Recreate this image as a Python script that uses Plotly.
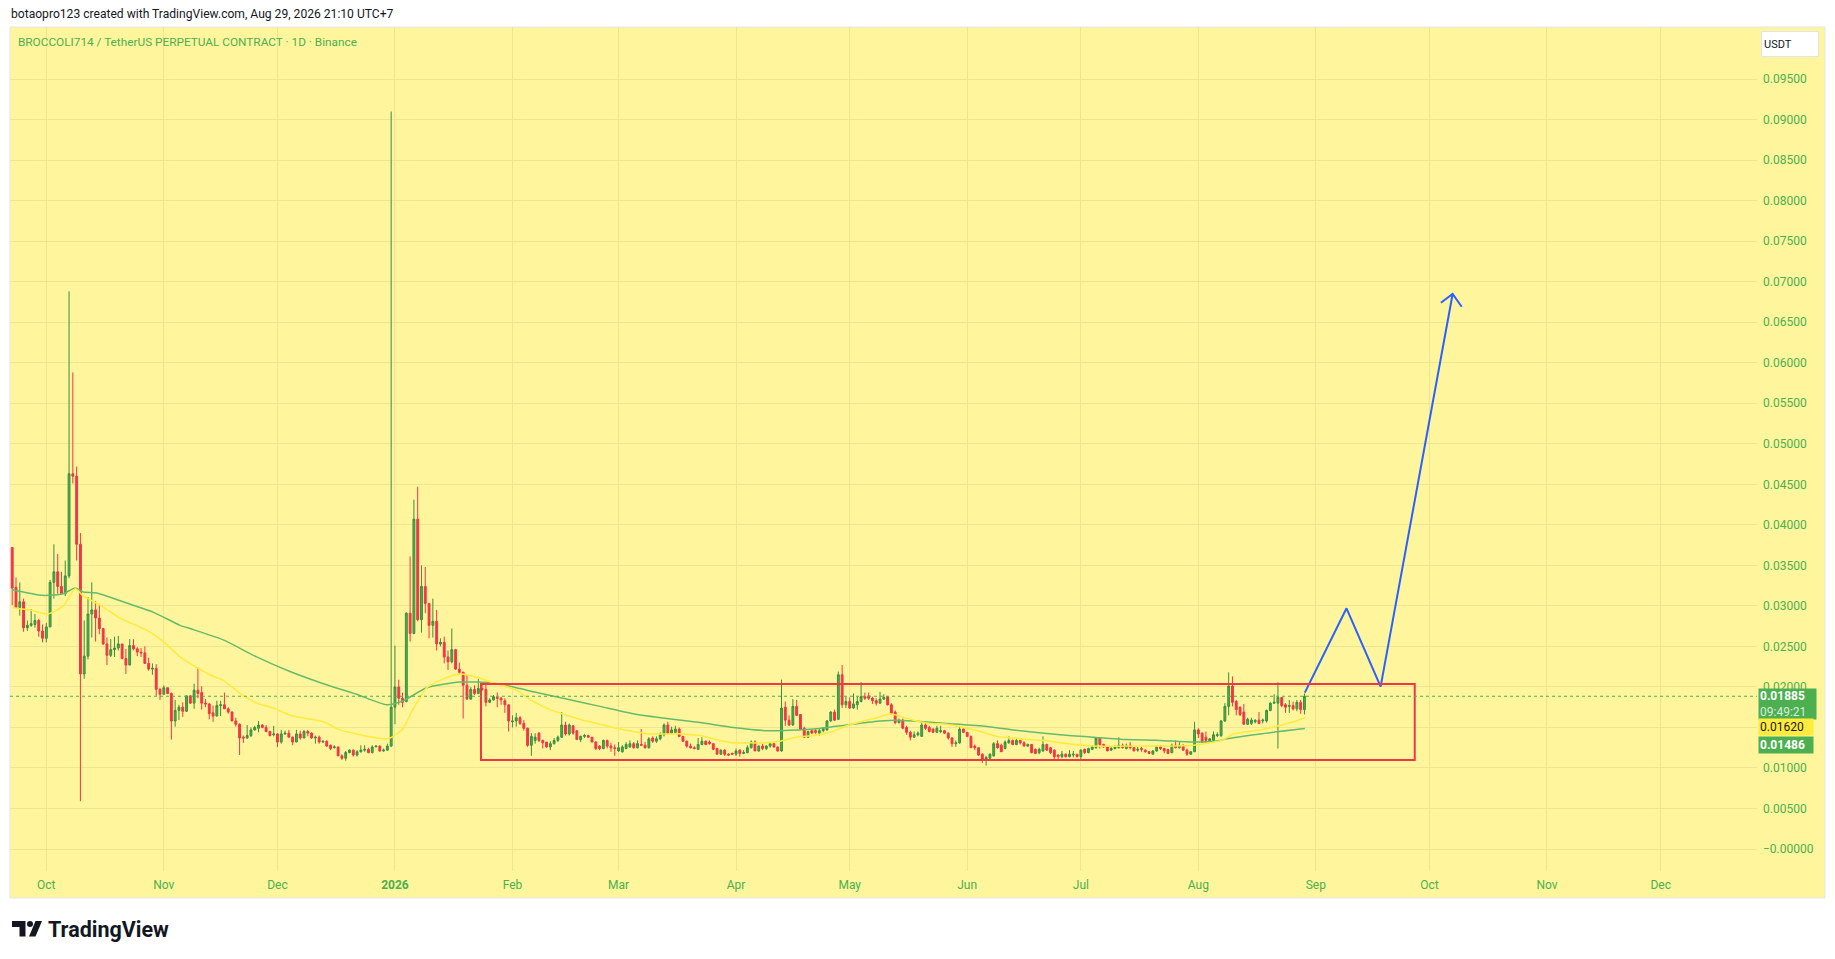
import pandas as pd
import plotly.graph_objects as go

# ---- data (daily candles, first one on 2025-09-22) ----
start_day = pd.Timestamp("2025-09-22")

open_ = [
    .0372, .0323, .0298, .0305, .0273, .0276, .0277, .0282, .0269, .0260,
    .0274, .0329, .0342, .0324, .0315, .0337, .0463, .0460, .0376, .0216,
    .0238, .0290, .0295, .0285, .0272, .0253, .0239, .0246, .0248, .0253,
    .0235, .0227, .0251, .0247, .0243, .0242, .0229, .0222, .0223, .0197,
    .0191, .0199, .0192, .0158, .0171, .0175, .0170, .0189, .0180, .0196,
    .0193, .0180, .0179, .0168, .0164, .0177, .0178, .0173, .0169, .0158,
    .0154, .0138, .0137, .0140, .0147, .0149, .0153, .0150, .0145, .0141,
    .0142, .0132, .0142, .0143, .0138, .0132, .0142, .0137, .0145, .0143,
    .0137, .0138, .0132, .0133, .0128, .0125, .0126, .0115, .0112, .0119,
    .0122, .0116, .0120, .0122, .0123, .0119, .0126, .0127, .0121, .0122,
    .0127, .0175, .0200, .0186, .0182, .0291, .0266, .0407, .0283, .0324,
    .0303, .0276, .0281, .0253, .0255, .0237, .0231, .0246, .0222, .0218,
    .0202, .0185, .0197, .0192, .0198, .0197, .0181, .0184, .0187, .0186,
    .0183, .0178, .0157, .0158, .0162, .0155, .0149, .0128, .0134, .0143,
    .0134, .0132, .0126, .0130, .0134, .0138, .0153, .0142, .0152, .0146,
    .0135, .0139, .0140, .0138, .0132, .0127, .0124, .0134, .0127, .0125,
    .0121, .0120, .0124, .0126, .0130, .0125, .0129, .0128, .0125, .0137,
    .0133, .0136, .0141, .0153, .0143, .0144, .0148, .0139, .0133, .0127,
    .0125, .0123, .0129, .0133, .0132, .0130, .0124, .0117, .0122, .0117,
    .0118, .0117, .0122, .0118, .0119, .0125, .0132, .0121, .0127, .0124,
    .0127, .0130, .0126, .0121, .0175, .0159, .0153, .0176, .0166, .0149,
    .0138, .0146, .0146, .0143, .0146, .0147, .0158, .0169, .0160, .0215,
    .0178, .0182, .0174, .0178, .0182, .0188, .0189, .0186, .0183, .0180,
    .0185, .0188, .0178, .0169, .0156, .0159, .0150, .0144, .0138, .0141,
    .0139, .0153, .0150, .0148, .0144, .0145, .0146, .0143, .0137, .0130,
    .0131, .0148, .0144, .0139, .0127, .0125, .0117, .0110, .0112, .0115,
    .0130, .0128, .0124, .0131, .0134, .0129, .0134, .0131, .0127, .0129,
    .0123, .0119, .0121, .0129, .0125, .0122, .0116, .0114, .0117, .0114,
    .0116, .0117, .0114, .0123, .0119, .0123, .0125, .0137, .0129, .0126,
    .0122, .0124, .0125, .0128, .0124, .0128, .0125, .0122, .0124, .0122,
    .0120, .0117, .0121, .0126, .0124, .0123, .0119, .0128, .0125, .0128,
    .0122, .0117, .0120, .0147, .0143, .0138, .0132, .0134, .0140, .0140,
    .0158, .0176, .0201, .0182, .0175, .0169, .0154, .0155, .0157, .0159,
    .0158, .0158, .0171, .0180, .0180, .0187, .0178, .0176, .0177, .0173,
    .0181, .0172,
]
high = [
    .0372, .0335, .0329, .0309, .0282, .0296, .0290, .0284, .0277, .0279,
    .0332, .0376, .0364, .0342, .0356, .0688, .0588, .0472, .0390, .0282,
    .0311, .0329, .0306, .0301, .0272, .0261, .0259, .0262, .0263, .0253,
    .0247, .0259, .0259, .0249, .0248, .0250, .0236, .0229, .0228, .0199,
    .0202, .0199, .0193, .0184, .0178, .0181, .0189, .0189, .0204, .0224,
    .0201, .0185, .0180, .0177, .0183, .0183, .0193, .0175, .0170, .0162,
    .0155, .0140, .0153, .0150, .0152, .0158, .0154, .0153, .0146, .0152,
    .0143, .0147, .0146, .0147, .0139, .0147, .0146, .0147, .0147, .0144,
    .0140, .0140, .0134, .0134, .0129, .0128, .0126, .0117, .0121, .0123,
    .0123, .0122, .0128, .0128, .0125, .0128, .0128, .0128, .0124, .0130,
    .0910, .0251, .0209, .0193, .0292, .0361, .0431, .0447, .0350, .0348,
    .0303, .0309, .0295, .0260, .0262, .0245, .0272, .0247, .0230, .0219,
    .0215, .0200, .0202, .0210, .0203, .0206, .0186, .0190, .0193, .0188,
    .0186, .0178, .0165, .0168, .0164, .0159, .0150, .0143, .0143, .0144,
    .0135, .0132, .0133, .0137, .0140, .0169, .0157, .0155, .0153, .0146,
    .0140, .0142, .0141, .0138, .0133, .0128, .0135, .0135, .0131, .0129,
    .0132, .0128, .0132, .0134, .0132, .0134, .0148, .0132, .0138, .0139,
    .0139, .0144, .0155, .0157, .0151, .0152, .0150, .0139, .0134, .0130,
    .0127, .0137, .0138, .0134, .0134, .0130, .0125, .0123, .0123, .0118,
    .0119, .0124, .0123, .0122, .0128, .0134, .0134, .0128, .0130, .0128,
    .0132, .0130, .0126, .0209, .0182, .0165, .0185, .0184, .0166, .0151,
    .0146, .0148, .0149, .0148, .0150, .0159, .0170, .0172, .0219, .0227,
    .0188, .0187, .0192, .0188, .0206, .0193, .0193, .0188, .0186, .0194,
    .0191, .0189, .0180, .0171, .0161, .0161, .0152, .0146, .0145, .0145,
    .0158, .0157, .0152, .0149, .0152, .0152, .0147, .0144, .0138, .0134,
    .0152, .0150, .0144, .0140, .0129, .0125, .0118, .0115, .0118, .0132,
    .0134, .0130, .0134, .0139, .0135, .0137, .0135, .0133, .0130, .0129,
    .0124, .0125, .0139, .0130, .0126, .0123, .0117, .0121, .0118, .0122,
    .0121, .0117, .0123, .0124, .0125, .0128, .0138, .0138, .0130, .0127,
    .0127, .0128, .0138, .0130, .0130, .0132, .0126, .0126, .0126, .0123,
    .0121, .0122, .0128, .0128, .0125, .0123, .0130, .0134, .0132, .0129,
    .0124, .0121, .0157, .0149, .0144, .0145, .0137, .0145, .0144, .0159,
    .0180, .0218, .0213, .0184, .0176, .0179, .0162, .0162, .0160, .0169,
    .0161, .0172, .0181, .0191, .0206, .0187, .0180, .0184, .0182, .0184,
    .0184, .0192,
]
low = [
    .0301, .0297, .0288, .0268, .0269, .0274, .0273, .0262, .0255, .0255,
    .0274, .0309, .0315, .0315, .0312, .0334, .0451, .0356, .0059, .0210,
    .0234, .0261, .0256, .0265, .0252, .0227, .0237, .0237, .0245, .0234,
    .0216, .0227, .0245, .0238, .0237, .0229, .0220, .0215, .0189, .0184,
    .0190, .0191, .0135, .0151, .0159, .0163, .0169, .0179, .0173, .0186,
    .0172, .0175, .0160, .0157, .0164, .0164, .0173, .0167, .0158, .0151,
    .0116, .0131, .0136, .0138, .0146, .0144, .0149, .0144, .0139, .0139,
    .0126, .0130, .0141, .0138, .0128, .0132, .0135, .0137, .0139, .0136,
    .0130, .0130, .0131, .0126, .0122, .0124, .0115, .0110, .0109, .0118,
    .0114, .0114, .0119, .0120, .0118, .0118, .0126, .0120, .0120, .0121,
    .0126, .0154, .0178, .0175, .0181, .0256, .0265, .0281, .0267, .0291,
    .0260, .0261, .0245, .0250, .0229, .0221, .0229, .0221, .0215, .0161,
    .0184, .0184, .0190, .0191, .0195, .0176, .0180, .0183, .0175, .0178,
    .0168, .0145, .0150, .0151, .0153, .0146, .0126, .0115, .0130, .0132,
    .0124, .0125, .0122, .0129, .0132, .0137, .0140, .0140, .0141, .0135,
    .0132, .0137, .0137, .0132, .0122, .0122, .0123, .0124, .0120, .0115,
    .0120, .0119, .0123, .0125, .0124, .0124, .0127, .0124, .0124, .0131,
    .0131, .0134, .0139, .0142, .0142, .0143, .0138, .0132, .0125, .0124,
    .0123, .0122, .0128, .0128, .0129, .0122, .0117, .0116, .0115, .0115,
    .0116, .0115, .0114, .0117, .0118, .0124, .0121, .0120, .0122, .0122,
    .0125, .0125, .0120, .0120, .0152, .0152, .0152, .0164, .0147, .0137,
    .0137, .0142, .0142, .0140, .0144, .0146, .0157, .0158, .0160, .0174,
    .0174, .0173, .0173, .0172, .0181, .0184, .0184, .0179, .0177, .0179,
    .0184, .0177, .0166, .0154, .0155, .0148, .0141, .0134, .0137, .0139,
    .0139, .0147, .0144, .0143, .0143, .0143, .0142, .0135, .0126, .0126,
    .0130, .0143, .0138, .0125, .0122, .0115, .0106, .0103, .0110, .0114,
    .0124, .0120, .0123, .0130, .0128, .0128, .0129, .0127, .0126, .0118,
    .0117, .0117, .0120, .0121, .0117, .0111, .0110, .0112, .0113, .0113,
    .0113, .0113, .0110, .0117, .0118, .0122, .0124, .0124, .0125, .0121,
    .0121, .0123, .0124, .0124, .0123, .0123, .0121, .0120, .0120, .0119,
    .0117, .0117, .0120, .0122, .0118, .0117, .0118, .0124, .0124, .0121,
    .0115, .0116, .0120, .0137, .0131, .0130, .0131, .0133, .0138, .0138,
    .0157, .0165, .0176, .0165, .0164, .0153, .0153, .0153, .0155, .0154,
    .0155, .0156, .0170, .0179, .0124, .0175, .0168, .0168, .0171, .0170,
    .0167, .0166,
]
close = [
    .0322, .0298, .0305, .0273, .0276, .0278, .0282, .0269, .0260, .0274,
    .0329, .0342, .0324, .0315, .0337, .0463, .0460, .0376, .0216, .0238,
    .0290, .0295, .0285, .0272, .0253, .0239, .0246, .0248, .0253, .0235,
    .0227, .0251, .0247, .0243, .0242, .0229, .0222, .0223, .0197, .0191,
    .0199, .0192, .0158, .0171, .0175, .0170, .0189, .0180, .0196, .0192,
    .0180, .0179, .0167, .0164, .0177, .0178, .0173, .0169, .0158, .0154,
    .0137, .0137, .0140, .0147, .0150, .0153, .0150, .0145, .0140, .0142,
    .0132, .0142, .0143, .0138, .0132, .0142, .0137, .0145, .0143, .0137,
    .0138, .0132, .0133, .0127, .0124, .0126, .0115, .0112, .0119, .0122,
    .0116, .0120, .0122, .0123, .0119, .0126, .0127, .0121, .0122, .0127,
    .0175, .0200, .0186, .0181, .0291, .0266, .0407, .0283, .0324, .0303,
    .0276, .0281, .0253, .0255, .0237, .0231, .0246, .0222, .0218, .0202,
    .0185, .0197, .0192, .0198, .0197, .0181, .0184, .0188, .0186, .0184,
    .0178, .0158, .0158, .0162, .0155, .0149, .0128, .0139, .0138, .0134,
    .0131, .0126, .0130, .0134, .0138, .0153, .0142, .0153, .0143, .0135,
    .0139, .0140, .0138, .0132, .0124, .0124, .0134, .0127, .0125, .0124,
    .0125, .0126, .0129, .0130, .0125, .0130, .0128, .0125, .0136, .0133,
    .0136, .0141, .0153, .0143, .0147, .0148, .0139, .0133, .0127, .0125,
    .0124, .0129, .0133, .0129, .0130, .0123, .0117, .0122, .0117, .0116,
    .0117, .0121, .0118, .0119, .0125, .0132, .0121, .0127, .0124, .0127,
    .0130, .0126, .0121, .0174, .0159, .0153, .0176, .0165, .0148, .0138,
    .0145, .0143, .0144, .0146, .0149, .0158, .0169, .0159, .0215, .0178,
    .0182, .0174, .0179, .0182, .0188, .0186, .0186, .0183, .0180, .0185,
    .0187, .0178, .0167, .0156, .0159, .0149, .0144, .0138, .0141, .0143,
    .0153, .0149, .0145, .0144, .0149, .0146, .0143, .0137, .0130, .0131,
    .0148, .0144, .0139, .0125, .0125, .0116, .0110, .0113, .0117, .0130,
    .0125, .0120, .0132, .0134, .0129, .0134, .0131, .0127, .0129, .0119,
    .0118, .0123, .0129, .0122, .0119, .0114, .0114, .0117, .0114, .0117,
    .0117, .0114, .0122, .0119, .0124, .0126, .0137, .0129, .0126, .0121,
    .0124, .0126, .0128, .0125, .0128, .0125, .0121, .0123, .0123, .0120,
    .0118, .0121, .0126, .0124, .0121, .0118, .0128, .0125, .0128, .0122,
    .0117, .0120, .0147, .0142, .0132, .0134, .0136, .0141, .0141, .0158,
    .0176, .0201, .0181, .0172, .0166, .0154, .0160, .0159, .0159, .0155,
    .0159, .0171, .0180, .0181, .0187, .0177, .0175, .0177, .0173, .0181,
    .0172, .01885,
]

# moving averages (day number counted from start_day = 1)
ma_slow_day = [1, 9, 14.5, 17.6, 19.8, 23.3, 30.3, 38.3, 45.3, 47.9, 56.7, 65.5,
               74.3, 83.1, 91.9, 99.8, 104.2, 110.4, 119.2, 128, 135, 138.5, 147.3,
               156.1, 164.9, 173.7, 182.5, 191.3, 200.1, 203.6, 212.4, 221.2, 230,
               234.4, 238.8, 247.6, 256.4, 265.2, 277.5, 286.3, 295.1, 303.9, 312.7,
               319.7, 321.5, 330.3, 342.1]
ma_slow = [.0320, .0313, .0315, .0322, .0317, .0316, .0305, .0292, .0276, .0272,
           .0258, .0237, .0219, .0204, .0191, .0178, .0183, .0199, .0206, .0205,
           .0198, .0194, .0185, .0176, .0167, .0161, .0156, .0150, .0146, .0146,
           .0148, .0153, .0158, .0159, .0158, .0155, .0152, .0147, .0141, .0138,
           .0135, .0134, .0132, .0134, .0136, .0142, .01486]

ma_fast_day = [1, 6.6, 10.4, 14.5, 17.6, 19.8, 24.2, 29.4, 31.2, 36.5, 40.9, 45.3,
               47.9, 53.2, 56.7, 61.1, 65.5, 69.9, 74.3, 78.7, 83.1, 87.5, 91.9,
               96.3, 99.8, 101.6, 104.2, 106.8, 110.4, 114.8, 119.2, 123.6, 128,
               134.1, 138.5, 142.9, 147.3, 151.7, 156.1, 160.5, 164.9, 169.3, 173.7,
               178.1, 182.5, 186.9, 191.3, 195.7, 200.1, 203.6, 208, 212.4, 216.8,
               221.2, 225.6, 230, 232.6, 234.4, 238.8, 243.2, 247.6, 252, 256.4,
               260.8, 265.2, 269.6, 274, 277.5, 286.3, 295.1, 303.9, 312.7, 317.1,
               320.6, 323.2, 330.3, 339.1, 342.1]
ma_fast = [.0298, .0294, .0290, .0300, .0321, .0312, .0301, .0285, .0281, .0270,
           .0256, .0237, .0229, .0215, .0208, .0192, .0180, .0174, .0165, .0161,
           .0157, .0147, .0142, .0138, .0136, .0139, .0149, .0173, .0199, .0210,
           .0216, .0212, .0205, .0196, .0182, .0172, .0165, .0159, .0154, .0149,
           .0145, .0142, .0142, .0142, .0140, .0135, .0131, .0131, .0131, .0133,
           .0138, .0140, .0144, .0152, .0158, .0163, .0167, .0165, .0159, .0155,
           .0154, .0150, .0145, .0139, .0137, .0135, .0134, .0131, .0127, .0127,
           .0127, .0128, .0131, .0135, .0142, .0147, .0157, .0162]

# drawings on the chart: range box and projected path
box_day = [124.7, 371.1]
box_price = [0.0110, 0.02036]
path_day = [342.1, 353.1, 362.1, 381.1]
path_price = [0.01929, 0.0297, 0.02003, 0.06848]
head_day = [378.0, 381.1, 383.5]
head_price = [0.0674, 0.06848, 0.0669]

price_ticks = [0.0, 0.005, 0.010, 0.015, 0.020, 0.025, 0.030, 0.035, 0.040, 0.045,
               0.050, 0.055, 0.060, 0.065, 0.070, 0.075, 0.080, 0.085, 0.090, 0.095]
# 0.01500 sits under the price labels in the original, so it is left blank
price_tick_text = ["\u22120.00000", "0.00500", "0.01000", "", "0.02000",
                   "0.02500", "0.03000", "0.03500", "0.04000", "0.04500", "0.05000",
                   "0.05500", "0.06000", "0.06500", "0.07000", "0.07500", "0.08000",
                   "0.08500", "0.09000", "0.09500"]
month_ticks = ["2025-10-01", "2025-11-01", "2025-12-01", "2026-01-01", "2026-02-01",
               "2026-03-01", "2026-04-01", "2026-05-01", "2026-06-01", "2026-07-01",
               "2026-08-01", "2026-09-01", "2026-10-01", "2026-11-01", "2026-12-01"]
month_text = ["Oct", "Nov", "Dec", "<b>2026</b>", "Feb", "Mar", "Apr", "May", "Jun",
              "Jul", "Aug", "Sep", "Oct", "Nov", "Dec"]

last_price, fast_last, slow_last = 0.01885, 0.01620, 0.01486

# ---- helpers ----
# the page body keeps an 8px margin, so the figure is drawn 8px in from the corner
OFF = 8
W, H = 1835 - 2 * OFF, 959 - 2 * OFF
PL, PR, PT, PB = 10, 1757, 27, 871   # plot box in page pixels


def px(x):
    return (x - PL) / (PR - PL)


def py(y):
    return (PB - y) / (PB - PT)


def day(d):
    return start_day + pd.Timedelta(days=d - 1)


GREEN = "#4caf50"
RED = "#f23645"
BG = "#fff59d"
GRID = "#efe591"
FONT = "Roboto, Arial, sans-serif"

dates = pd.date_range(start_day, periods=len(close), freq="D")

fig = go.Figure()

fig.add_trace(go.Candlestick(
    x=dates, open=open_, high=high, low=low, close=close,
    increasing=dict(line=dict(color="#3a8f3d", width=1), fillcolor=GREEN),
    decreasing=dict(line=dict(color=RED, width=1), fillcolor=RED),
    whiskerwidth=0, hoverinfo="none", showlegend=False))

fig.add_trace(go.Scatter(
    x=[day(d) for d in ma_slow_day], y=ma_slow, mode="lines",
    line=dict(color="#66bb6a", width=1.5, shape="spline", smoothing=0.6),
    hoverinfo="skip", showlegend=False))
fig.add_trace(go.Scatter(
    x=[day(d) for d in ma_fast_day], y=ma_fast, mode="lines",
    line=dict(color="#ffeb3b", width=1.5, shape="spline", smoothing=0.6),
    hoverinfo="skip", showlegend=False))

fig.add_trace(go.Scatter(
    x=[day(d) for d in path_day], y=path_price, mode="lines",
    line=dict(color="#2962ff", width=2), hoverinfo="skip", showlegend=False))
fig.add_trace(go.Scatter(
    x=[day(d) for d in head_day], y=head_price, mode="lines",
    line=dict(color="#2962ff", width=2), hoverinfo="skip", showlegend=False))

shapes = [
    # yellow pane incl. both scales
    dict(type="rect", xref="paper", yref="paper", layer="below",
         x0=px(10), x1=px(1825), y0=py(898), y1=py(27),
         fillcolor=BG, line=dict(color="#e6e6e6", width=1)),
    # range box
    dict(type="rect", xref="x", yref="y",
         x0=day(box_day[0]), x1=day(box_day[1]), y0=box_price[0], y1=box_price[1],
         line=dict(color=RED, width=2)),
    # last price line
    dict(type="line", xref="paper", yref="y", x0=0, x1=1,
         y0=last_price, y1=last_price, line=dict(color=GREEN, width=1, dash="dot")),
]

# TradingView logo mark
def path_from(points):
    s = "M " + " L ".join(f"{px(a):.5f},{py(b):.5f}" for a, b in points)
    return s + " Z"

shapes.append(dict(type="path", xref="paper", yref="paper", line=dict(width=0),
                   fillcolor="#131722",
                   path=path_from([(12, 921), (25.5, 921), (25.5, 936.5), (19.5, 936.5),
                                   (19.5, 927), (12, 927)])))
shapes.append(dict(type="circle", xref="paper", yref="paper", line=dict(width=0),
                   fillcolor="#131722", x0=px(27), x1=px(33), y0=py(927), y1=py(921)))
shapes.append(dict(type="path", xref="paper", yref="paper", line=dict(width=0),
                   fillcolor="#131722",
                   path=path_from([(29, 936.5), (35.5, 936.5), (42, 921), (35.5, 921)])))

annotations = [
    dict(text="botaopro123 created with TradingView.com, Aug 29, 2026 21:10 UTC+7",
         xref="paper", yref="paper", x=px(9), y=py(14), xanchor="left",
         yanchor="middle", showarrow=False,
         font=dict(family=FONT, size=12.1, color="#131722")),
    dict(text="BROCCOLI714 / TetherUS PERPETUAL CONTRACT \u00b7 1D \u00b7 Binance",
         xref="paper", yref="paper", x=px(16), y=py(42), xanchor="left",
         yanchor="middle", showarrow=False,
         font=dict(family=FONT, size=11.8, color=GREEN)),
    dict(text="USDT", xref="paper", yref="paper", x=px(1761), y=py(44),
         xanchor="left", yanchor="middle", showarrow=False, align="left",
         width=52, height=20, bgcolor="white", bordercolor="#e0e3eb",
         borderwidth=1, borderpad=2,
         font=dict(family=FONT, size=11, color="#131722")),
    dict(text=f"<b>{last_price:.5f}</b><br><span style='color:#d7ecd8'>09:49:21</span>",
         xref="paper", yref="y", x=px(1758), y=last_price, yshift=-8,
         xanchor="left", yanchor="middle", showarrow=False, align="left",
         width=55, height=28, bgcolor=GREEN, borderpad=1,
         font=dict(family=FONT, size=12, color="white")),
    dict(text=f"{fast_last:.5f}", xref="paper", yref="y", x=px(1758), y=fast_last,
         yshift=-9, xanchor="left", yanchor="middle", showarrow=False, align="left",
         width=52, height=14, bgcolor="#ffeb3b", borderpad=1,
         font=dict(family=FONT, size=12, color="#131722")),
    dict(text=f"<b>{slow_last:.5f}</b>", xref="paper", yref="y", x=px(1758),
         y=slow_last, yshift=-16, xanchor="left", yanchor="middle", showarrow=False,
         align="left", width=52, height=14, bgcolor=GREEN, borderpad=1,
         font=dict(family=FONT, size=12, color="white")),
    dict(text="<b>TradingView</b>", xref="paper", yref="paper", x=px(46), y=py(929),
         xanchor="left", yanchor="middle", showarrow=False,
         font=dict(family=FONT, size=21.5, color="#131722")),
]

fig.update_layout(
    width=W, height=H,
    margin=dict(l=PL - OFF, r=(W + OFF) - PR, t=PT - OFF, b=(H + OFF) - PB),
    paper_bgcolor="white", plot_bgcolor=BG,
    hovermode=False, showlegend=False,
    font=dict(family=FONT, size=12, color=GREEN),
    xaxis=dict(type="date", range=["2025-09-21 10:00", "2026-12-26 10:00"],
               rangeslider=dict(visible=False), tickvals=month_ticks,
               ticktext=month_text, showgrid=True, gridcolor=GRID, gridwidth=1,
               zeroline=False, showline=False, ticks="",
               ticklabelstandoff=5,
               tickfont=dict(family=FONT, size=12, color=GREEN)),
    yaxis=dict(side="right", range=[-0.00271, 0.10142], tickvals=price_ticks,
               ticktext=price_tick_text, showgrid=True, gridcolor=GRID,
               gridwidth=1, zeroline=False, showline=False, ticks="",
               ticklabelstandoff=5,
               tickfont=dict(family=FONT, size=12, color=GREEN)),
    shapes=shapes,
    annotations=annotations,
)

fig.write_html("out.html")
